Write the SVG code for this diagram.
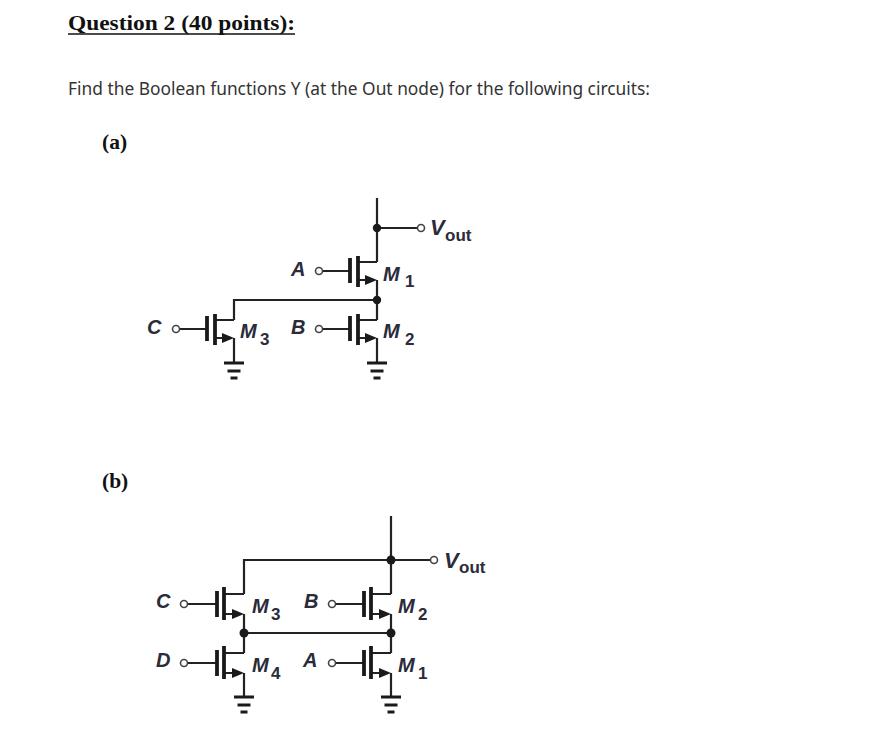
<svg xmlns="http://www.w3.org/2000/svg" width="884" height="739" viewBox="0 0 884 739">
<style>
.w{fill:none;stroke:#222;stroke-width:2.200}
.p{fill:none;stroke:#1a1a1a;stroke-width:3.800}
.d{fill:#1a1a1a}
.o{fill:#fff;stroke:#444;stroke-width:1.600}
.g{fill:none;stroke:#1a1a1a;stroke-width:3.200}
.h{font-family:"Liberation Serif",serif;font-weight:bold;font-size:21.500px;fill:#111}
.b{font-family:"Noto Sans","Open Sans",sans-serif;font-size:17.500px;fill:#333}
.l{font-family:"Liberation Sans",Arial,sans-serif;font-weight:bold;font-style:italic;font-size:20px;fill:#2b2b3a}
.v{font-family:"Liberation Sans",Arial,sans-serif;font-weight:bold;font-style:italic;font-size:22px;fill:#2b2b3a}
.s{font-family:"Liberation Sans",Arial,sans-serif;font-weight:bold;font-size:17px;fill:#2b2b3a}
</style>
<defs>
<g id="feta">
<path class="w" d="M-31 9H0M8 0H27M8 18H18"/>
<path class="p" d="M0-4V21M8-6V25"/>
<path class="d" d="M15 13L27 18L15 23Z"/>
</g>
<g id="fetb">
<path class="w" d="M-33 10H0M7 0H27M7 20H18"/>
<path class="p" d="M0-3V23M7-7V26"/>
<path class="d" d="M15 15L27 20L15 25Z"/>
</g>
<g id="gnd">
<path class="g" d="M-10 0H10M-6.500 8H6.500M-3.500 15H3.500"/>
</g>
</defs>
<g id="title">
<text class="h" x="68" y="30" textLength="227" lengthAdjust="spacingAndGlyphs">Question 2 (40 points):</text>
<path d="M68 34H295" stroke="#111" stroke-width="1.600"/>
<text class="b" x="68" y="95" textLength="582" lengthAdjust="spacingAndGlyphs">Find the Boolean functions Y (at the Out node) for the following circuits:</text>
<text class="h" x="102" y="149">(a)</text>
<text class="h" x="102" y="488">(b)</text>
</g>
<g id="connectors">
<path class="w" d="M377 198V262M377 228H417M377 280V320M234 320V300H377M377 338V363M234 338V363"/>
<path class="w" d="M391 516V594M391 560H430M244 594V560H391M244 614V653M391 614V653M244 633H391M244 673V697M391 673V697"/>
<circle class="d" cx="377" cy="228" r="4.200"/>
<circle class="d" cx="377" cy="300" r="4.200"/>
<circle class="d" cx="391" cy="560" r="4.500"/>
<circle class="d" cx="244" cy="633" r="4.500"/>
<circle class="d" cx="391" cy="633" r="4.500"/>
</g>
<g id="a-vout"><circle class="o" cx="421" cy="228" r="3.500"/><text class="v" x="430" y="235">V</text><text class="s" x="445" y="241">out</text></g>
<g id="a-m1"><use href="#feta" x="350" y="262"/><circle class="o" cx="319" cy="271" r="3.500"/><text class="l" x="291" y="276">A</text><text class="l" x="383" y="281">M</text><text class="s" x="405" y="287">1</text></g>
<g id="a-m2"><use href="#feta" x="350" y="320"/><circle class="o" cx="319" cy="329" r="3.500"/><text class="l" x="291" y="334">B</text><use href="#gnd" x="377" y="363"/><text class="l" x="383" y="338">M</text><text class="s" x="405" y="345">2</text></g>
<g id="a-m3"><use href="#feta" x="207" y="320"/><circle class="o" cx="176" cy="329" r="3.500"/><text class="l" x="147" y="334">C</text><use href="#gnd" x="234" y="363"/><text class="l" x="240" y="338">M</text><text class="s" x="260" y="345">3</text></g>
<g id="b-vout"><circle class="o" cx="434" cy="560" r="3.500"/><text class="v" x="444" y="568">V</text><text class="s" x="459" y="573">out</text></g>
<g id="b-m3"><use href="#fetb" x="217" y="594"/><circle class="o" cx="184" cy="604" r="3.500"/><text class="l" x="156" y="608">C</text><text class="l" x="252" y="613">M</text><text class="s" x="271" y="620">3</text></g>
<g id="b-m2"><use href="#fetb" x="364" y="594"/><circle class="o" cx="332" cy="604" r="3.500"/><text class="l" x="304" y="608">B</text><text class="l" x="398" y="613">M</text><text class="s" x="418" y="620">2</text></g>
<g id="b-m4"><use href="#fetb" x="217" y="653"/><circle class="o" cx="184" cy="663" r="3.500"/><text class="l" x="156" y="667">D</text><use href="#gnd" x="244" y="697"/><text class="l" x="252" y="672">M</text><text class="s" x="271" y="679">4</text></g>
<g id="b-m1"><use href="#fetb" x="364" y="653"/><circle class="o" cx="332" cy="663" r="3.500"/><text class="l" x="303" y="667">A</text><use href="#gnd" x="391" y="697"/><text class="l" x="398" y="672">M</text><text class="s" x="418" y="679">1</text></g>
</svg>
